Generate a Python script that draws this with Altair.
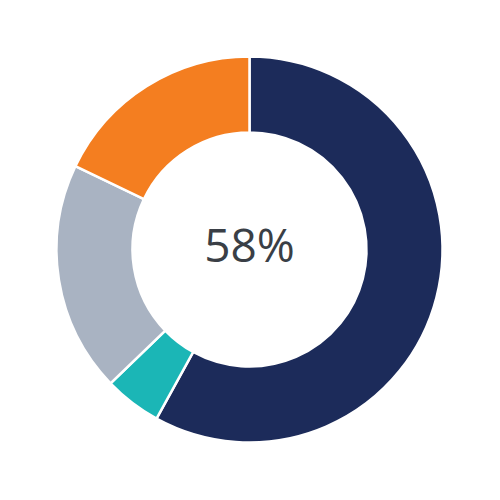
import altair as alt
import pandas as pd

categories = ["A", "B", "C", "D"]
values = [58, 4.8, 19.3, 17.9]
colors = ["#1c2b5a", "#1bb6b6", "#a9b3c2", "#f47e20"]
center_label = "58%"

df = pd.DataFrame({"cat": categories, "value": values, "idx": list(range(len(categories)))})

arcs = alt.Chart(df).mark_arc(
    outerRadius=193, innerRadius=117, stroke="white", strokeWidth=2.5
).encode(
    theta=alt.Theta("value:Q", stack=True),
    color=alt.Color("cat:N", scale=alt.Scale(domain=categories, range=colors), legend=None),
    order=alt.Order("idx:Q", sort="ascending"),
)

text = alt.Chart(pd.DataFrame({"t": [center_label]})).mark_text(
    font="Open Sans", fontSize=46, fontWeight=400, color="#3a3f46",
    baseline="middle", align="center", dy=-2
).encode(text="t:N")

chart = alt.layer(arcs, text).properties(
    width=483, height=483, padding=0, autosize=alt.AutoSizeParams(type="none")
).configure_view(stroke=None)

chart.save("out.html", embed_options={"renderer": "svg", "actions": False})
